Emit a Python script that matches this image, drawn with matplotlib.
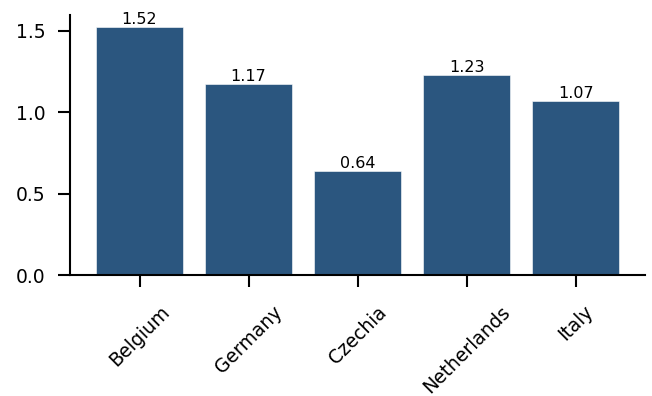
import matplotlib
matplotlib.use("Agg")
import matplotlib.pyplot as plt

countries = ["Belgium", "Germany", "Czechia", "Netherlands", "Italy"]
values = [1.52, 1.17, 0.64, 1.23, 1.07]

fig, ax = plt.subplots(figsize=(6.52, 3.96), dpi=100)
bars = ax.bar(countries, values, color="#2b567f", width=0.8, edgecolor="white", linewidth=0.4)
for b, v in zip(bars, values):
    ax.text(b.get_x() + b.get_width() / 2, v, f"{v:.2f}", ha="center", va="bottom", fontsize=11.5)

ax.set_yticks([0.0, 0.5, 1.0, 1.5])
ax.tick_params(axis="both", labelsize=13.5, width=1.5, length=8.5)
ax.tick_params(axis="x", pad=11)
ax.tick_params(axis="y", pad=9)
plt.setp(ax.get_xticklabels(), rotation=45, ha="center")
for s in ["top", "right"]:
    ax.spines[s].set_visible(False)
for s in ["left", "bottom"]:
    ax.spines[s].set_linewidth(1.5)

fig.subplots_adjust(left=0.107, right=0.99, top=0.962, bottom=0.305)
fig.savefig("out.png", dpi=100)
